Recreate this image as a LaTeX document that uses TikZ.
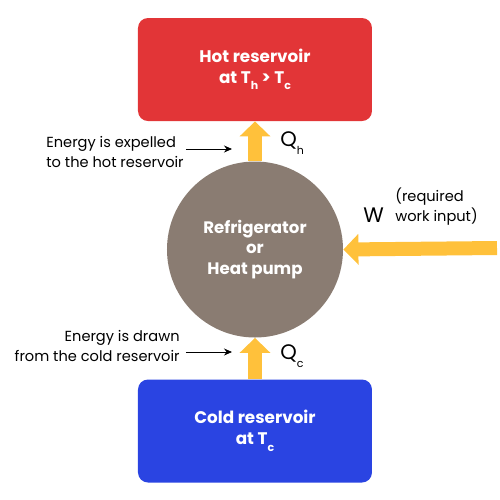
\documentclass[tikz,border=0pt]{standalone}
\usepackage{fontspec}
\setmainfont{Poppins}
\usetikzlibrary{arrows.meta}

\definecolor{hotred}{HTML}{E23537}
\definecolor{coldblue}{HTML}{2A44E2}
\definecolor{pumpgray}{HTML}{8A7C72}
\definecolor{flowyellow}{HTML}{FFC13B}

\tikzset{
    reservoir/.style={draw=none, rounded corners=5pt, minimum width=117pt,
        minimum height=51.5pt, text=white, align=center,
        font=\fontsize{8.4}{10.5}\selectfont\bfseries},
    flow/.style={flowyellow, line width=7pt,
        -{Triangle[length=7.5pt, width=15pt]}},
    note/.style={font=\fontsize{7.3}{10}\selectfont, inner sep=0pt},
    pointer/.style={-{Stealth[length=4pt, width=3.5pt]}, line width=0.4pt},
    heat/.style={font=\fontsize{10.5}{12}\selectfont, inner sep=0pt}
}
\newcommand{\sub}[1]{\raisebox{-0.7ex}{\fontsize{5.5}{7}\selectfont #1}}

\begin{document}
\begin{tikzpicture}[x=0.5pt, y=-0.5pt]
    % Canvas
    \useasboundingbox (0,0) rectangle (500,500);

    % Reservoirs and the machine
    \node[reservoir, fill=hotred] (hot) at (255,69.5)
        {Hot reservoir\\at T\sub{h} > T\sub{c}};
    \node[reservoir, fill=coldblue] (cold) at (255,431)
        {Cold reservoir\\at T\sub{c}};
    \node[circle, fill=pumpgray, minimum size=88pt, text=white, align=center,
        font=\fontsize{8.3}{10.3}\selectfont\bfseries] (pump) at (255,249.5)
        {Refrigerator\\or\\Heat pump};

    % Heat and work flows
    \coordinate (win) at (497,248);
    \draw[flow] (pump.north) -- (hot.south);
    \draw[flow] (cold.north) -- (pump.south);
    \draw[flow] (win) -- (pump.east);

    % Flow labels
    \node[heat, anchor=west] (qh) at (280,143) {Q\sub{h}};
    \node[heat, anchor=west] (qc) at (280,356) {Q\sub{c}};
    \node[heat, anchor=west] (w) at (363,215) {W};
    \node[note, anchor=west, align=left] (winfo) at (395,207)
        {(required\\work input)};

    % Notes with small pointers
    \node[note, anchor=west, align=left] (expel) at (46,152)
        {Energy is expelled\\to the hot reservoir};
    \node[note, anchor=east, align=right] (drawn) at (180,346)
        {Energy is drawn\\from the cold reservoir};
    \coordinate (expeltip) at (232,149);
    \coordinate (drawntip) at (232,352);
    \draw[pointer] (expeltip -| 186,0) -- (expeltip);
    \draw[pointer] (drawntip -| 186,0) -- (drawntip);
\end{tikzpicture}
\end{document}
